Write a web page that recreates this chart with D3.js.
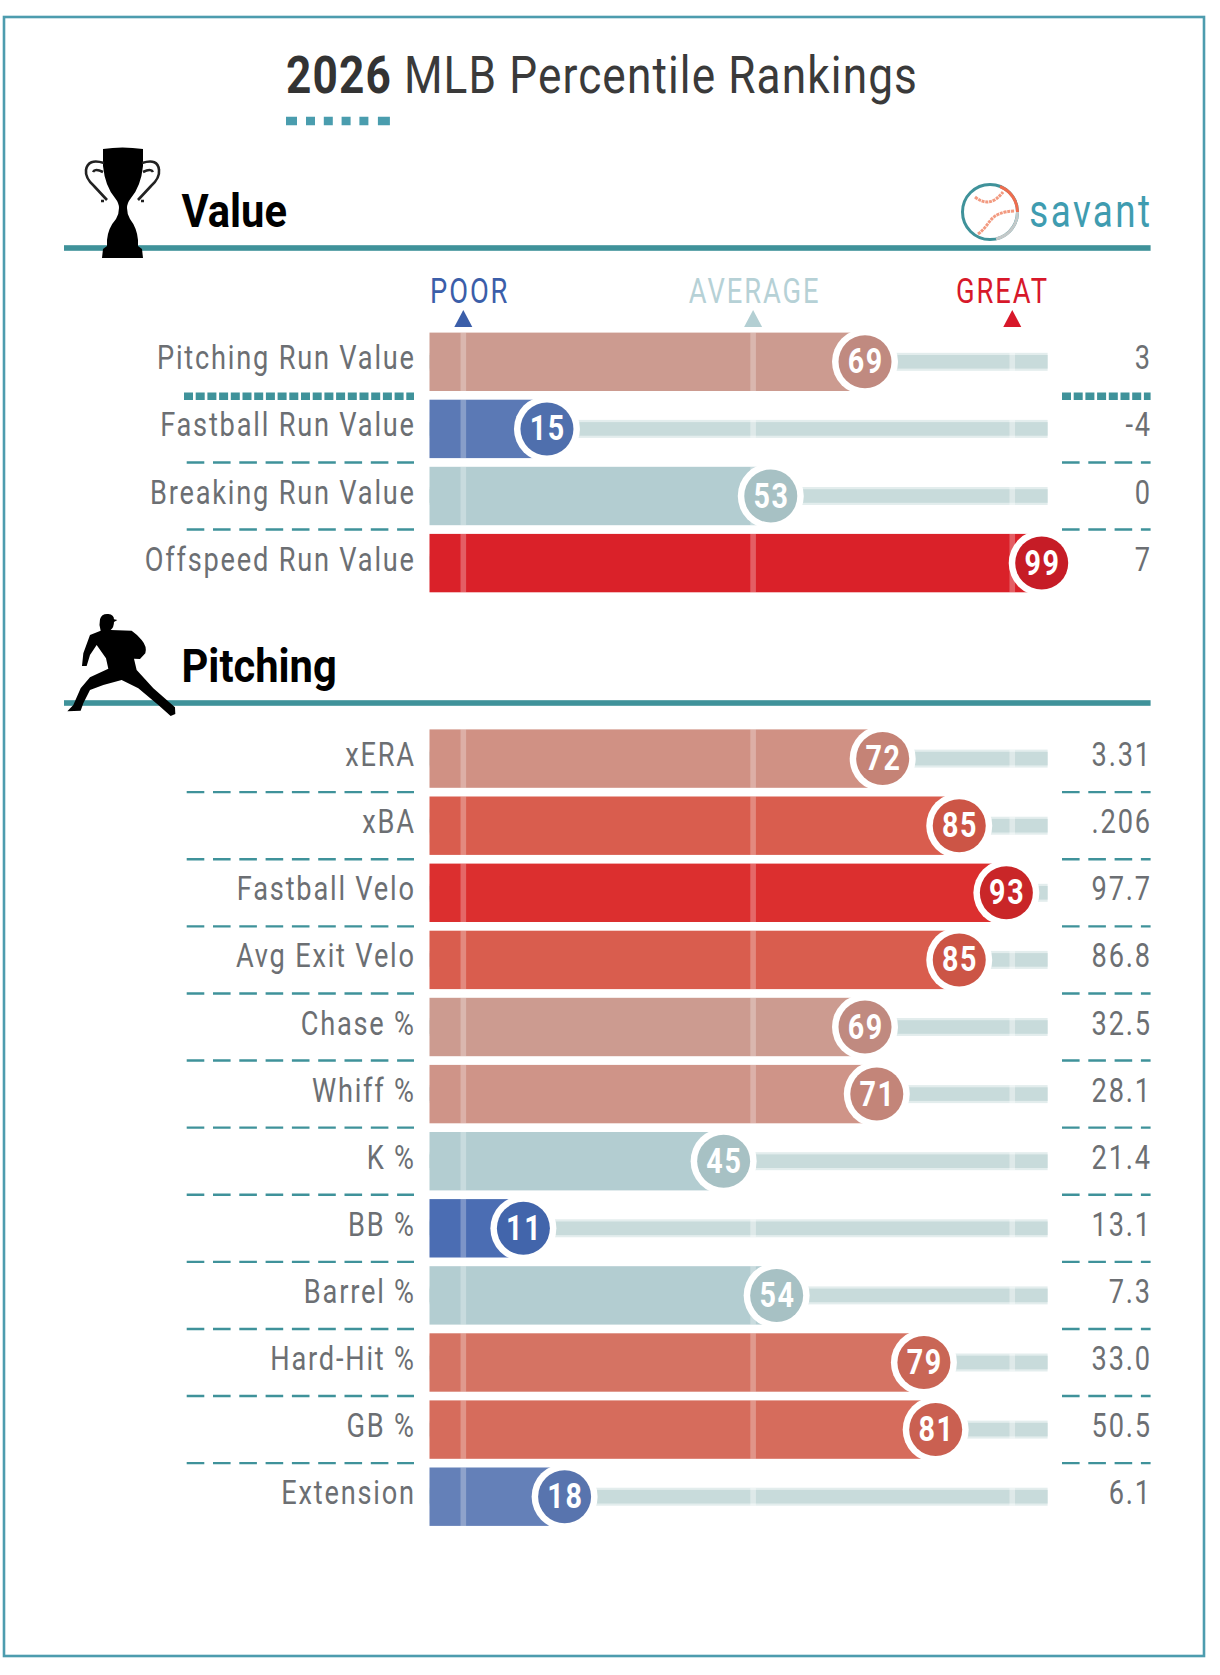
<!DOCTYPE html>
<html>
<head>
<meta charset="utf-8">
<title>2026 MLB Percentile Rankings</title>
<script src="https://cdn.jsdelivr.net/npm/d3@7/dist/d3.min.js"></script>
<style>
  html, body { margin: 0; padding: 0; background: #fff; }
  svg { display: block; }
  text { font-family: Roboto, "Open Sans", sans-serif; }
</style>
</head>
<body>
<svg id="chart" width="1220" height="1675"></svg>
<script>
// Value section
const valueMetrics = ["Pitching Run Value", "Fastball Run Value", "Breaking Run Value", "Offspeed Run Value"];
const valuePercentiles = [69, 15, 53, 99];
const valueStats = ["3", "-4", "0", "7"];

// Pitching section
const pitchingMetrics = ["xERA", "xBA", "Fastball Velo", "Avg Exit Velo", "Chase %", "Whiff %", "K %", "BB %", "Barrel %", "Hard-Hit %", "GB %", "Extension"];
const pitchingPercentiles = [72, 85, 93, 85, 69, 71, 45, 11, 54, 79, 81, 18];
const pitchingStats = ["3.31", ".206", "97.7", "86.8", "32.5", "28.1", "21.4", "13.1", "7.3", "33.0", "50.5", "6.1"];

// Scale markers above the bars
const markerLabels = ["POOR", "AVERAGE", "GREAT"];
const markerPercentiles = [0.8, 50, 94];
const markerColors = ["#3b5ea9", "#b6d1d6", "#d7182a"];

// Percentile colour ramps for the bars and their badges
const rampStops = [11, 15, 18, 45, 54, 69, 72, 79, 85, 93, 99];
const barRamp = ["#4b6db3", "#5b79b5", "#6480b8", "#b3cdd1", "#b3cdd1", "#cc9b90", "#d09184", "#d57363", "#d95d4e", "#dc2f2f", "#da2129"];
const badgeRamp = ["#4265ab", "#4f6fad", "#5874ae", "#a7c1c4", "#a7c1c4", "#c08a80", "#c58376", "#c96656", "#cc5546", "#c92628", "#c61c26"];

const teal = "#3f929a";
const frameTeal = "#4d9cae";
const labelGray = "#6c6f73";

const x = d3.scaleLinear().domain([0, 100]).range([458.6, 1047.6]);
const barFill = d3.scaleLinear().domain(rampStops).range(barRamp).clamp(true);
const badgeFill = d3.scaleLinear().domain(rampStops).range(badgeRamp).clamp(true);

const barLeft = 429.5, barHeight = 58.4, rowStep = 67.1;
const labelRight = 414, statRight = 1150, ruleLeft = 64;

const svg = d3.select("#chart");

// Text set in a horizontally condensed Roboto, with optional tracking
function squeezed(parent, px, py, str, opts) {
  const g = parent.append("g")
    .attr("transform", `translate(${px},${py}) scale(${opts.sx},1)`);
  const anchor = opts.anchor || "start";
  const ls = opts.ls || 0;
  return g.append("text")
    .attr("x", anchor === "end" ? ls : anchor === "middle" ? ls / 2 : 0)
    .attr("text-anchor", anchor)
    .attr("letter-spacing", ls)
    .attr("font-size", opts.size)
    .attr("font-weight", opts.weight || 400)
    .attr("fill", opts.fill)
    .text(str);
}

// Frame
svg.append("rect").attr("x", 4).attr("y", 17).attr("width", 1200).attr("height", 1639)
  .attr("fill", "#fff").attr("stroke", frameTeal).attr("stroke-width", 2.6);

// Title
const title = squeezed(svg, 286, 93, "", { sx: 0.85, ls: 1.3, size: 52, fill: "#3a3a3a" });
title.append("tspan").attr("font-weight", 700).attr("fill", "#333").text("2026");
title.append("tspan").text(" MLB Percentile Rankings");
svg.append("line").attr("x1", 286).attr("x2", 391).attr("y1", 121).attr("y2", 121)
  .attr("stroke", "#4a9dae").attr("stroke-width", 8.5)
  .attr("stroke-dasharray", "11 9 9 8.8 9 8.8 9 8.8 9 9.5 12");

// Section headers
function sectionHeader(name, ruleY) {
  svg.append("rect").attr("x", ruleLeft).attr("y", ruleY - 2.8).attr("width", statRight + 0.6 - ruleLeft).attr("height", 5.6).attr("fill", teal);
  squeezed(svg, 181.5, ruleY - 21, name, { sx: 0.887, size: 47, weight: 700, fill: "#000" });
}
sectionHeader("Value", 248);
sectionHeader("Pitching", 703);

// Trophy icon
const trophy = svg.append("g");
trophy.append("path").attr("fill", "#000")
  .attr("d", "M103,149 Q122,146 143,149 L143,166 Q141,186 131,198 Q127,203 127,208 Q127,214 130,219 Q137,228 138,240 L138,246 L142,249 L143,258 L102,258 L103,249 L107,246 L107,240 Q108,228 116,219 Q119,214 119,208 Q119,203 115,198 Q105,186 103,166 Z");
trophy.append("path").attr("fill", "none").attr("stroke", "#222").attr("stroke-width", 2.6)
  .attr("d", "M104,163 Q88,158 86,170 Q85,178 94,186 L107,200 M103,172 Q95,168 93,172 M104,201 L101,201");
trophy.append("path").attr("fill", "none").attr("stroke", "#222").attr("stroke-width", 2.6)
  .attr("d", "M142,163 Q158,158 159,170 Q160,178 151,186 L138,200 M143,172 Q151,168 153,172 M141,201 L144,201");

// Pitcher silhouette
svg.append("path").attr("fill", "#000")
  .attr("transform", "translate(40,590) scale(0.3333)")
  .attr("d", "M180,88 Q185,70 205,72 Q222,74 222,88 L232,90 L222,96 Q222,112 212,120 L275,122 Q290,132 305,150 Q322,170 316,190 L300,207 L282,206 L290,240 L340,295 L405,352 L406,372 L392,378 L355,345 L295,295 L245,270 L190,285 L150,300 L130,340 L122,362 L82,364 L100,345 L122,295 L150,262 L205,236 L198,205 L170,165 L150,195 L140,228 L126,228 L130,190 L150,135 L182,122 Q176,105 180,88 Z");

// Savant mark
const ball = svg.append("g").attr("fill", "none").attr("stroke-width", 3);
ball.append("circle").attr("cx", 990).attr("cy", 212).attr("r", 27.5).attr("stroke", teal);
ball.append("path").attr("stroke", "#c4c9c9").attr("d", "M1017.5,212 A27.5,27.5 0 0 1 996,239");
ball.append("path").attr("stroke", "#ef6d4e").attr("d", "M1000,186.5 A27.5,27.5 0 0 1 1017.5,212");
ball.append("path").attr("stroke", "#f29a80").attr("stroke-dasharray", "3 0.8").attr("d", "M975,197 Q990,209 1003,192");
ball.append("path").attr("stroke", "#f29a80").attr("stroke-dasharray", "3 0.8").attr("d", "M978,234 C992,224 988,212 1015,211");
squeezed(svg, 1150, 227, "savant", { sx: 0.8, ls: 3, size: 46, fill: "#3f9cb0", anchor: "end" });

// Scale markers
const markerY = 303;
markerLabels.forEach((lab, i) => {
  const mx = x(markerPercentiles[i]);
  const labelX = [430, 753.7, 1001.5][i];
  squeezed(svg, labelX, markerY, lab, { sx: 0.78, ls: 2.5, size: 35, fill: markerColors[i], anchor: i === 0 ? "start" : "middle" });
  svg.append("path").attr("fill", i === 1 ? "#b3cfd3" : markerColors[i])
    .attr("d", d3.line()([[mx - 9, 327], [mx, 310], [mx + 9, 327]]) + "Z");
});

// One block of metric rows
function drawRows(metrics, percentiles, stats, top, thickFirst) {
  const rows = svg.append("g").selectAll("g").data(metrics).join("g")
    .attr("transform", (d, i) => `translate(0,${top + i * rowStep})`);

  // background track
  rows.append("rect").attr("x", barLeft).attr("y", barHeight / 2 - 9).attr("width", x(100) - barLeft).attr("height", 18).attr("fill", "#e3eded");
  rows.append("rect").attr("x", barLeft).attr("y", barHeight / 2 - 6.8).attr("width", x(100) - barLeft).attr("height", 13.6).attr("fill", "#c8dbdb");

  // percentile bar
  rows.append("rect").attr("x", barLeft).attr("y", 0).attr("height", barHeight)
    .attr("width", (d, i) => x(percentiles[i]) - barLeft)
    .attr("fill", (d, i) => barFill(percentiles[i]));

  // reference lines over bar and track
  markerPercentiles.forEach(p => {
    rows.each(function (d, i) {
      const g = d3.select(this), end = x(percentiles[i]);
      if (x(p) < end) {
        g.append("rect").attr("x", x(p) - 2.8).attr("y", 0).attr("width", 5.6).attr("height", barHeight)
          .attr("fill", "#fff").attr("opacity", 0.28);
      } else {
        g.append("rect").attr("x", x(p) - 2.8).attr("y", barHeight / 2 - 9).attr("width", 5.6).attr("height", 18)
          .attr("fill", "#fff").attr("opacity", 0.4);
      }
    });
  });

  // percentile badge with its white ring
  rows.append("circle").attr("cx", (d, i) => x(percentiles[i])).attr("cy", barHeight / 2).attr("r", 33).attr("fill", "#fff");
  rows.append("circle").attr("cx", (d, i) => x(percentiles[i])).attr("cy", barHeight / 2).attr("r", 26.5)
    .attr("fill", (d, i) => badgeFill(percentiles[i]));
  rows.each(function (d, i) {
    squeezed(d3.select(this), x(percentiles[i]), barHeight / 2 + 11.5, percentiles[i], { sx: 0.82, ls: 2, size: 35, weight: 700, fill: "#fff", anchor: "middle" });
    squeezed(d3.select(this), labelRight, barHeight / 2 + 7.5, d, { sx: 0.8, ls: 2.25, size: 34, fill: labelGray, anchor: "end" });
    squeezed(d3.select(this), statRight, barHeight / 2 + 7.5, stats[i], { sx: 0.8, ls: 2.25, size: 34, fill: labelGray, anchor: "end" });
    if (i < metrics.length - 1) {
      const heavy = thickFirst && i === 0;
      const y = barHeight + (rowStep - barHeight) / 2 + (heavy ? 1 : 0);
      [[186.7, labelRight], [1062, statRight + 0.6]].forEach(([a, b], side) => {
        d3.select(this).append("line").attr("x1", heavy && side === 0 ? a - 2.7 : a).attr("x2", b).attr("y1", y).attr("y2", y)
          .attr("stroke", teal)
          .attr("stroke-width", heavy ? 7.5 : 2.4)
          .attr("stroke-dasharray", heavy ? "9 2.7" : "17.6 8.7");
      });
    }
  });
}

drawRows(valueMetrics, valuePercentiles, valueStats, 332.6, true);
drawRows(pitchingMetrics, pitchingPercentiles, pitchingStats, 729.4, false);
</script>
</body>
</html>
